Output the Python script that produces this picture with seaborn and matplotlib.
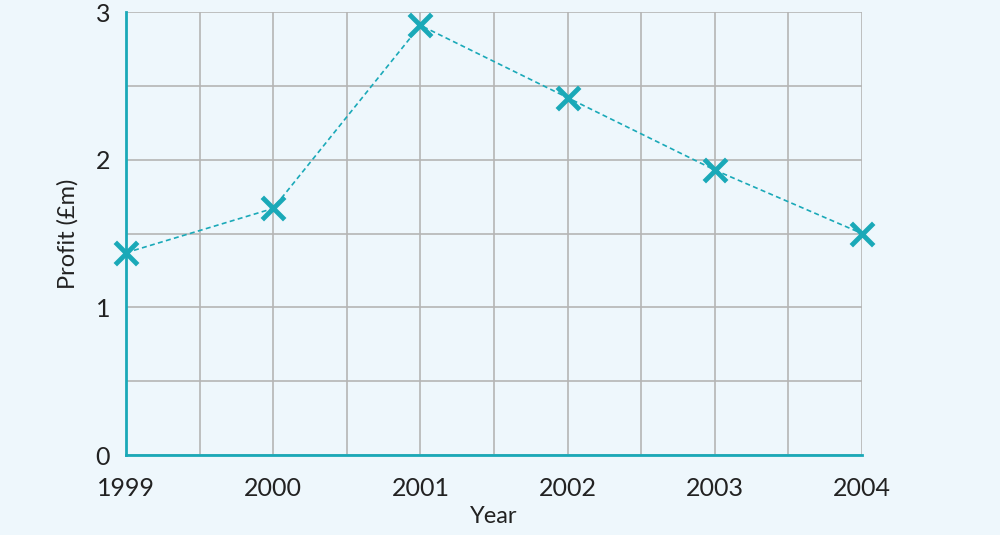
import numpy as np
import pandas as pd
import matplotlib
matplotlib.use("Agg")
import matplotlib.pyplot as plt
import seaborn as sns

years = [1999, 2000, 2001, 2002, 2003, 2004]
profit = [1.37, 1.67, 2.91, 2.42, 1.93, 1.50]

teal = "#1aa9b8"
bg = "#eef7fc"

sns.set_style("white")
plt.rcParams["font.family"] = ["Lato", "DejaVu Sans"]

df = pd.DataFrame({"Year": years, "Profit": profit})

fig = plt.figure(figsize=(10, 5.35), dpi=100, facecolor=bg)
ax = fig.add_axes([0.126, 0.1495, 0.736, 0.828])
ax.set_facecolor(bg)

sns.lineplot(data=df, x="Year", y="Profit", ax=ax, color=teal,
             linestyle=(0, (3, 2)), linewidth=1.2)
sns.scatterplot(data=df, x="Year", y="Profit", ax=ax, marker="x",
                s=260, color=teal, linewidth=3.5, zorder=5, clip_on=False)

ax.set_xlim(1999, 2004)
ax.set_ylim(0, 3)
ax.set_xticks(years)
ax.set_yticks([0, 1, 2, 3])
ax.set_xticks(np.arange(1999, 2004.01, 0.5), minor=True)
ax.set_yticks(np.arange(0, 3.01, 0.5), minor=True)
ax.grid(which="both", color="#b5b5b5", linewidth=1.2)
ax.set_axisbelow(True)

for s in ["top", "right"]:
    ax.spines[s].set_visible(False)
for s in ["left", "bottom"]:
    ax.spines[s].set_color(teal)
    ax.spines[s].set_linewidth(2)

ax.tick_params(which="major", length=8, width=2, color=teal,
               labelsize=18, labelcolor="#222222")
ax.tick_params(axis="x", pad=8)
ax.tick_params(which="minor", length=0)
ax.set_xlabel("Year", fontsize=17, color="#222222", labelpad=4)
ax.set_ylabel("Profit (£m)", fontsize=17, color="#222222", labelpad=12)

fig.savefig("out.png", dpi=100, facecolor=bg)
